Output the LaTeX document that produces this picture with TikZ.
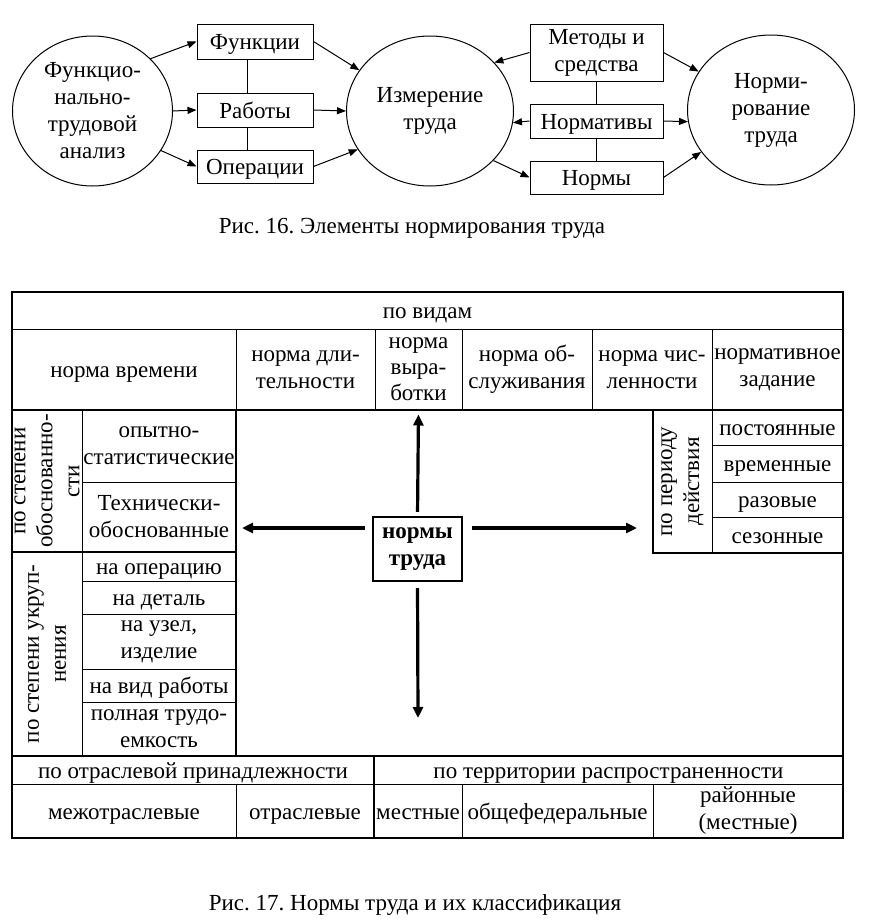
\documentclass[tikz,border=0pt]{standalone}
\usepackage{fontspec}
\setmainfont{Liberation Serif}
\usetikzlibrary{shapes.geometric,arrows.meta}
\frenchspacing

\begin{document}
\begin{tikzpicture}[
  x=1pt, y=-1pt,
  every node/.style={font=\fontsize{23}{27}\selectfont, align=center},
  oval/.style={draw, ellipse, line width=1pt, minimum width=167, minimum height=150, inner sep=0pt},
  box/.style={draw, line width=1pt, inner sep=0pt},
  oneline/.style={text height=20pt, text depth=4pt},
  link/.style={line width=1pt},
  arr/.style={line width=1pt, -{Stealth[length=9pt, width=7pt, inset=0pt]}},
  cell/.style={draw, line width=1pt, inner sep=0pt},
  side/.style={rotate=90, inner sep=0pt},
  frame/.style={line width=2.4pt},
  bigarrow/.style={line width=3.2pt, -{Stealth[length=11pt, width=10pt, inset=0pt]}}
]
  \useasboundingbox (0,0) rectangle (868,921);

  % Fig. 16: analysis -> measurement -> norming
  \node[oval, minimum width=160] (fta) at (92.5,111) {Функцио-\\нально-\\трудовой\\анализ};
  \node[oval] (izm) at (430,111) {Измерение\\труда};
  \node[oval] (norm) at (771,110) {Норми-\\рование\\труда};

  % middle boxes, left group
  \node[box, oneline, minimum width=116, minimum height=35] (fun) at (255,41.5) {Функции};
  \node[box, oneline, minimum width=116, minimum height=34] (rab) at (255,110) {Работы};
  \node[box, oneline, minimum width=116, minimum height=33] (opr) at (255,166.5) {Операции};

  % middle boxes, right group
  \node[box, minimum width=133, minimum height=57] (met) at (596.5,52.5) {Методы и\\средства};
  \node[box, oneline, minimum width=133, minimum height=34] (nrm) at (596.5,121) {Нормативы};
  \node[box, oneline, minimum width=133, minimum height=33] (nms) at (596.5,177.5) {Нормы};

  % plain links inside each group
  \draw[link] ([xshift=-8pt]fun.south) -- ([xshift=-8pt]rab.north);
  \draw[link] ([xshift=-8pt]rab.south) -- ([xshift=-8pt]opr.north);
  \draw[link] (met.south) -- (nrm.north);
  \draw[link] (nrm.south) -- (nms.north);

  % arrows
  \draw[arr] (fta.42) -- (fun.west);
  \draw[arr] (fta.east) -- (rab.west);
  \draw[arr] (fta.-30) -- (opr.west);
  \draw[arr] (fun.east) -- (izm.150);
  \draw[arr] (rab.east) -- (izm.west);
  \draw[arr] (opr.east) -- (izm.208);
  \draw[arr] (met.west) -- (izm.37);
  \draw[arr] (met.east) -- (norm.152);
  \draw[arr] (nrm.west) -- (izm.-8);
  \draw[arr] (nrm.east) -- (norm.188);
  \draw[arr] (izm.-38) -- (nms.west);
  \draw[arr] (nms.east) -- (norm.211);

  \node (cap1) at (412,228) {Рис. 16. Элементы нормирования труда};

  % Fig. 17: classification table
  \node[cell, oneline, minimum width=831, minimum height=37] (vid) at (427.5,310.5) {по видам};
  \node[cell, oneline, minimum width=224, minimum height=81] (nvr) at (124,369.5) {норма времени};
  \node[cell, minimum width=139, minimum height=81] (ndl) at (305.5,369.5) {норма дли-\\тельности};
  \node[cell, minimum width=87, minimum height=81, font=\fontsize{23}{26}\selectfont] (nvy) at (418.5,369.5) {норма\\выра-\\ботки};
  \node[cell, minimum width=130, minimum height=81] (nob) at (527,369.5) {норма об-\\служивания};
  \node[cell, minimum width=120, minimum height=81] (nch) at (652,369.5) {норма чис-\\ленности};
  \node[cell, minimum width=131, minimum height=81] (nza) at (777.5,369.5) {нормативное\\задание};

  % left side: by degree of grounding
  \node[side] (sob) at (47,481) {по степени\\обоснованно-\\сти};
  \node[cell, minimum width=154, minimum height=72] (opy) at (159,446) {опытно-\\статистические};
  \node[cell, minimum width=154, minimum height=70] (teh) at (159,517) {Технически-\\обоснованные};

  % left side: by degree of enlargement
  \node[side] (sukr) at (47,654) {по степени укруп-\\нения};
  \node[cell, oneline, minimum width=154, minimum height=29] (nop) at (159,566.5) {на операцию};
  \node[cell, oneline, minimum width=154, minimum height=33] (nde) at (159,597.5) {на деталь};
  \node[cell, minimum width=154, minimum height=55] (nuz) at (159,641.5) {на узел,\\изделие};
  \node[cell, oneline, minimum width=154, minimum height=33] (nvi) at (159,685.5) {на вид работы};
  \node[cell, minimum width=154, minimum height=54] (ptr) at (159,729) {полная трудо-\\емкость};

  % right side: by period of validity
  \node[side] (pdej) at (682.5,481.5) {по периоду\\действия};
  \node[cell, oneline, minimum width=131, minimum height=35] (pos) at (777.5,427.5) {постоянные};
  \node[cell, oneline, minimum width=131, minimum height=37] (vre) at (777.5,463.5) {временные};
  \node[cell, oneline, minimum width=131, minimum height=35] (raz) at (777.5,499.5) {разовые};
  \node[cell, oneline, minimum width=131, minimum height=36] (sez) at (777.5,535) {сезонные};

  % bottom rows
  \node[cell, oneline, minimum width=362, minimum height=28] (otr) at (193,770) {по отраслевой принадлежности};
  \node[cell, oneline, minimum width=469, minimum height=28] (ter) at (608.5,770) {по территории распространенности};
  \node[cell, oneline, minimum width=224, minimum height=54] (mez) at (124,811) {межотраслевые};
  \node[cell, oneline, minimum width=138, minimum height=54] (otl) at (305,811) {отраслевые};
  \node[cell, oneline, minimum width=88, minimum height=54] (mes) at (418,811) {местные};
  \node[cell, oneline, minimum width=191, minimum height=54] (obf) at (557.5,811) {общефедеральные};
  \node[cell, minimum width=190, minimum height=54] (ray) at (748,811) {районные\\(местные)};

  % heavy rules
  \draw[frame] (12,292) rectangle (843,838);
  \draw[frame] (12,410) -- (843,410);
  \draw[frame] (236,410) -- (236,756);
  \draw[frame] (12,552) -- (236,552);
  \draw[frame] (12,756) -- (843,756);
  \draw[frame] (374,756) -- (374,838);
  \draw[frame] (653,410) -- (653,553) -- (843,553);

  % centre box and its four arrows
  \node[box, line width=2.4pt, minimum width=89, minimum height=64,
        font=\fontsize{23}{27}\selectfont\bfseries] (nt) at (417.5,549) {нормы\\труда};
  \coordinate (dnend) at (418,718);
  \coordinate (lfend) at (242,528);
  \coordinate (rtend) at (637,528);
  \draw[bigarrow, shorten <=4pt, shorten >=4pt] (nt.north) -- (nvy.south);
  \draw[bigarrow, shorten <=6pt] (nt.south) -- (dnend);
  \draw[bigarrow, shorten <=7pt] (nt.west |- lfend) -- (lfend);
  \draw[bigarrow, shorten <=9pt] (nt.east |- rtend) -- (rtend);

  \node (cap2) at (415,905) {Рис. 17. Нормы труда и их классификация};
\end{tikzpicture}
\end{document}
